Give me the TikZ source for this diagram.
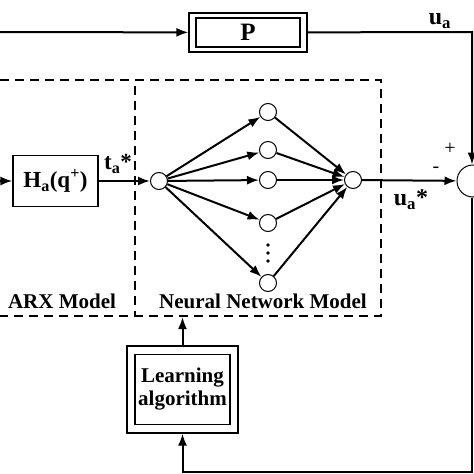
\documentclass[tikz,border=0pt]{standalone}
\usepackage{fontspec}
\setmainfont{Liberation Serif}
\usetikzlibrary{arrows.meta}

\begin{document}
\begin{tikzpicture}[x=1pt,y=-1pt,line width=2pt,>={Latex[length=12pt,width=9pt]},
	neuron/.style={circle,draw,line width=1pt,minimum size=17pt,inner sep=0pt,fill=white},
	box/.style={draw,line width=1.2pt,inner sep=0pt},
	lbl/.style={font=\fontsize{21}{23}\selectfont\bfseries},
	sgn/.style={font=\fontsize{20}{22}\selectfont}]
	\useasboundingbox (0,0) rectangle (474,474);

	% dashed model frame
	\draw[line width=1.6pt,dash pattern=on 9pt off 6pt] (0,80) -- (381,80) -- (381,316) -- (0,316);
	\draw[line width=1.6pt,dash pattern=on 9pt off 6pt] (135,86) -- (135,316);
	\node[lbl] (arxlbl) at (62,301) {ARX Model};
	\node[lbl] (nnlbl) at (263,301) {Neural Network Model};

	% blocks
	\node[box,minimum width=118pt,minimum height=39pt] (P) at (248,32.5) {};
	\node[box,minimum width=104pt,minimum height=29pt,font=\fontsize{25}{27}\selectfont\bfseries] (Pin) at (P) {P};
	\node[box,minimum width=85pt,minimum height=51pt,font=\fontsize{23}{25}\selectfont\bfseries] (arx) at (55.5,181) {H\textsubscript{a}(q\textsuperscript{+})};
	\node[box,minimum width=111pt,minimum height=87pt] (learn) at (182.5,389.5) {};
	\node[box,minimum width=95pt,minimum height=70pt,lbl,align=center] (learnin) at (learn) {Learning\\algorithm};

	% neurons
	\node[neuron] (in) at (159,181) {};
	\node[neuron] (h1) at (268,112) {};
	\node[neuron] (h2) at (268,150) {};
	\node[neuron] (h3) at (268,180) {};
	\node[neuron] (h4) at (268,223) {};
	\node[neuron] (h5) at (268,283) {};
	\node[neuron] (out) at (353,180) {};
	\foreach \y in {245,253,261} \fill (268,\y) circle (1.8pt);
	\node[circle,draw,line width=1pt,minimum size=32pt,inner sep=0pt] (sum) at (473,181) {};

	\foreach \h in {h1,h2,h3,h4,h5} {
		\draw[->] (in) -- (\h);
		\draw[->] (\h) -- (out);
	}

	% signals
	\coordinate (src) at (0,32);
	\coordinate (srcH) at (0,181);
	\coordinate (tr) at (472,32);
	\coordinate (br) at (472,472);
	\coordinate (bl) at (182.5,472);
	\coordinate (frame) at (182.5,317);
	\draw[->] (src) -- (P);
	\draw[->] (P) -- (tr) -- (sum.north -| tr);
	\draw[->] (sum.south -| br) -- (br) -- (bl) -- (learn);
	\draw[->] (learn) -- (frame);
	\draw[->] (srcH) -- (arx);
	\draw[->] (arx) -- (in);
	\draw[->] (out) -- (sum);

	\node[font=\fontsize{24}{26}\selectfont\bfseries] (ua) at (440,21) {u\textsubscript{a}};
	\node[font=\fontsize{23}{25}\selectfont\bfseries] (ta) at (118,164) {t\textsubscript{a}*};
	\node[font=\fontsize{24}{26}\selectfont\bfseries] (uas) at (411,200) {u\textsubscript{a}*};
	\node[sgn] (plus) at (450,149) {+};
	\node[sgn] (minus) at (436,170) {-};
\end{tikzpicture}
\end{document}
